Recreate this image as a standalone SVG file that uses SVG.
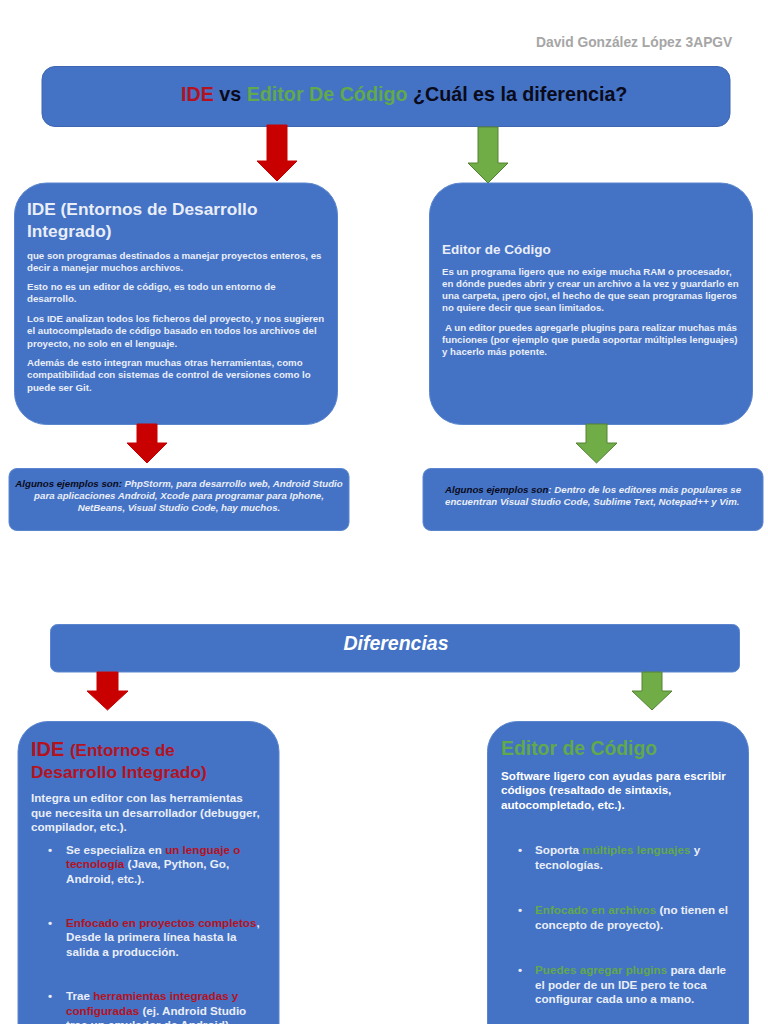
<svg xmlns="http://www.w3.org/2000/svg" width="768" height="1024" viewBox="0 0 768 1024">
<style>
text{font-family:"Liberation Sans",Arial,sans-serif;font-weight:700;fill:#e9eef8}
.box{fill:#4472c4;stroke:#5b86cf;stroke-width:1}
.s{font-size:9.700px}
.i{font-size:9.700px;font-style:italic}
.m{font-size:11.670px}
.k{fill:#0a0a1a}
.r{fill:#b5121f}
.g{fill:#62a84c}
.ar{fill:#c90000;stroke:#c90000}
.ag{fill:#70ad47;stroke:#548235}
</style>
<rect width="768" height="1024" fill="#fff"/>
<text id="author" x="536" y="47" font-size="13.800" style="fill:#a6a6a6">David González López 3APGV</text>
<g id="title">
<rect class="box" x="42" y="66.500" width="688" height="60" rx="13" style="stroke:#3f66b0"/>
<text x="181" y="101" font-size="19.700"><tspan class="r">IDE</tspan><tspan class="k"> vs </tspan><tspan class="g">Editor De Código</tspan><tspan class="k"> ¿Cuál es la diferencia?</tspan></text>
</g>
<g id="ide-box">
<rect class="box" x="14.500" y="183" width="323" height="241.500" rx="32"/>
<text x="27" y="215" font-size="17.300">IDE (Entornos de Desarrollo</text>
<text x="27" y="237" font-size="17.300">Integrado)</text>
<text class="s" x="27" y="259">que son programas destinados a manejar proyectos enteros, es</text>
<text class="s" x="27" y="271">decir a manejar muchos archivos.</text>
<text class="s" x="27" y="290">Esto no es un editor de código, es todo un entorno de</text>
<text class="s" x="27" y="302">desarrollo.</text>
<text class="s" x="27" y="322">Los IDE analizan todos los ficheros del proyecto, y nos sugieren</text>
<text class="s" x="27" y="334">el autocompletado de código basado en todos los archivos del</text>
<text class="s" x="27" y="347">proyecto, no solo en el lenguaje.</text>
<text class="s" x="27" y="366">Además de esto integran muchas otras herramientas, como</text>
<text class="s" x="27" y="378">compatibilidad con sistemas de control de versiones como lo</text>
<text class="s" x="27" y="391">puede ser Git.</text>
</g>
<g id="editor-box">
<rect class="box" x="429.500" y="183" width="323" height="241.500" rx="32"/>
<text x="442" y="254" font-size="13.500">Editor de Código</text>
<text class="s" x="442" y="275">Es un programa ligero que no exige mucha RAM o procesador,</text>
<text class="s" x="442" y="287">en dónde puedes abrir y crear un archivo a la vez y guardarlo en</text>
<text class="s" x="442" y="299">una carpeta, ¡pero ojo!, el hecho de que sean programas ligeros</text>
<text class="s" x="442" y="311">no quiere decir que sean limitados.</text>
<text class="s" x="445" y="331">A un editor puedes agregarle plugins para realizar muchas más</text>
<text class="s" x="442" y="343">funciones (por ejemplo que pueda soportar múltiples lenguajes)</text>
<text class="s" x="442" y="355">y hacerlo más potente.</text>
</g>
<g id="ide-examples">
<rect class="box" x="9" y="468.500" width="340" height="62" rx="8"/>
<text class="i" x="179" y="487" text-anchor="middle"><tspan class="k">Algunos ejemplos son:</tspan> PhpStorm, para desarrollo web, Android Studio</text>
<text class="i" x="179" y="499" text-anchor="middle">para aplicaciones Android, Xcode para programar para Iphone,</text>
<text class="i" x="179" y="511" text-anchor="middle">NetBeans, Visual Studio Code, hay muchos.</text>
</g>
<g id="editor-examples">
<rect class="box" x="423" y="468.500" width="340" height="62" rx="8"/>
<text class="i" x="445" y="493"><tspan class="k">Algunos ejemplos son</tspan>: Dentro de los editores más populares se</text>
<text class="i" x="445" y="505">encuentran Visual Studio Code, Sublime Text, Notepad++ y Vim.</text>
</g>
<g id="diferencias">
<rect class="box" x="50.500" y="624.500" width="689" height="47.500" rx="7"/>
<text x="396" y="650" font-size="19.500" font-style="italic" text-anchor="middle" style="fill:#fff">Diferencias</text>
</g>
<g id="ide-detail">
<rect class="box" x="18" y="721.500" width="261" height="340" rx="30"/>
<text class="r" x="31" y="756" font-size="20">IDE <tspan font-size="17">(Entornos de</tspan></text>
<text class="r" x="31" y="778" font-size="17.400">Desarrollo Integrado)</text>
<text class="m" x="31" y="802">Integra un editor con las herramientas</text>
<text class="m" x="31" y="817">que necesita un desarrollador (debugger,</text>
<text class="m" x="31" y="831">compilador, etc.).</text>
<text class="m" x="48" y="854">•</text>
<text class="m" x="66" y="854">Se especializa en <tspan class="r">un lenguaje o</tspan></text>
<text class="m" x="66" y="868"><tspan class="r">tecnología</tspan> (Java, Python, Go,</text>
<text class="m" x="66" y="883">Android, etc.).</text>
<text class="m" x="48" y="927">•</text>
<text class="m" x="66" y="927"><tspan class="r">Enfocado en proyectos completos</tspan>,</text>
<text class="m" x="66" y="941">Desde la primera línea hasta la</text>
<text class="m" x="66" y="956">salida a producción.</text>
<text class="m" x="48" y="1000">•</text>
<text class="m" x="66" y="1000">Trae <tspan class="r">herramientas integradas y</tspan></text>
<text class="m" x="66" y="1015"><tspan class="r">configuradas</tspan> (ej. Android Studio</text>
<text class="m" x="66" y="1029">trae un emulador de Android).</text>
</g>
<g id="editor-detail">
<rect class="box" x="487.500" y="721.500" width="261" height="340" rx="30"/>
<text class="g" x="501" y="755" font-size="19.400">Editor de Código</text>
<text class="m" x="501" y="780" style="fill:#fff">Software ligero con ayudas para escribir</text>
<text class="m" x="501" y="794" style="fill:#fff">códigos (resaltado de sintaxis,</text>
<text class="m" x="501" y="809" style="fill:#fff">autocompletado, etc.).</text>
<text class="m" x="518" y="854">•</text>
<text class="m" x="535" y="854">Soporta <tspan class="g">múltiples lenguajes</tspan> y</text>
<text class="m" x="535" y="869">tecnologías.</text>
<text class="m" x="518" y="914">•</text>
<text class="m" x="535" y="914"><tspan class="g">Enfocado en archivos</tspan> (no tienen el</text>
<text class="m" x="535" y="929">concepto de proyecto).</text>
<text class="m" x="518" y="974">•</text>
<text class="m" x="535" y="974"><tspan class="g">Puedes agregar plugins</tspan> para darle</text>
<text class="m" x="535" y="989">el poder de un IDE pero te toca</text>
<text class="m" x="535" y="1003">configurar cada uno a mano.</text>
</g>
<g id="connectors">
<path class="ar" d="M267 125H287V161H297L277 181L257 161H267Z"/>
<path class="ag" d="M478 127H498V163H508L488 183L468 163H478Z"/>
<path class="ar" d="M137 424H157V443H167L147 463L127 443H137Z"/>
<path class="ag" d="M586 424H607V443H617L596.500 463L576 443H586Z"/>
<path class="ar" d="M97 672H118V691H128L107.500 710L87 691H97Z"/>
<path class="ag" d="M642 672H662V691H672L652 710L632 691H642Z"/>
</g>
</svg>
